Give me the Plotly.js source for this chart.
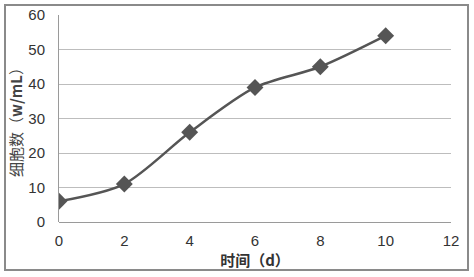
<!DOCTYPE html>
<html><head><meta charset="utf-8">
<script src="https://cdn.plot.ly/plotly-3.0.1.min.js"></script>
<style>html,body{margin:0;padding:0;background:#fff;}#chart{width:474px;height:277px;}</style>
</head><body><div id="chart"></div>
<script>
const days = [0, 2, 4, 6, 8, 10];
const cellCounts = [6, 11, 26, 39, 45, 54];
const xTicks = [0, 2, 4, 6, 8, 10, 12];
const yTicks = [0, 10, 20, 30, 40, 50, 60];
const xTitle = '时间（d）';
const yTitle = '细胞数（w/mL）';

const trace = {
  x: days, y: cellCounts, type: 'scatter', mode: 'lines+markers',
  line: {shape: 'spline', smoothing: 0.8, color: '#555555', width: 2.5},
  marker: {symbol: 'diamond', size: 13, color: '#555555'},
  hoverinfo: 'none'
};
const tickFont = {family: 'Liberation Sans, Arial, sans-serif', size: 15, color: '#333333'};
const layout = {
  width: 474, height: 277,
  margin: {l: 59, r: 23, t: 15, b: 55},
  paper_bgcolor: '#ffffff', plot_bgcolor: '#ffffff',
  showlegend: false,
  xaxis: {
    range: [0, 12], tickvals: xTicks, ticktext: xTicks.map(String),
    showgrid: false, zeroline: false, showline: false,
    ticks: '', ticklabelstandoff: 8, tickfont: tickFont,
    title: {text: '<b>' + xTitle + '</b>', font: {family: 'Noto Sans CJK SC, sans-serif', size: 15, color: '#333333'}, standoff: 0}
  },
  yaxis: {
    range: [0, 60], tickvals: yTicks, ticktext: yTicks.map(String),
    showgrid: true, gridcolor: '#bdbdbd', gridwidth: 1,
    zeroline: true, zerolinecolor: '#9a9a9a', zerolinewidth: 1,
    showline: true, linecolor: '#9a9a9a', linewidth: 1,
    ticks: '', ticklabelstandoff: 10, tickfont: tickFont,
    title: {text: '细胞数（<b>w/mL</b>）', font: {family: 'Noto Sans CJK SC, sans-serif', size: 15, color: '#444444'}, standoff: 2}
  },
  shapes: [{
    type: 'rect', xref: 'paper', yref: 'paper',
    x0: (5 - 59) / 392, x1: (468 - 59) / 392,
    y0: (222 - 270) / 207, y1: (222 - 5) / 207,
    line: {color: '#8a8a8a', width: 2}, layer: 'below'
  }]
};
Plotly.newPlot('chart', [trace], layout, {staticPlot: true, displayModeBar: false});
</script></body></html>
